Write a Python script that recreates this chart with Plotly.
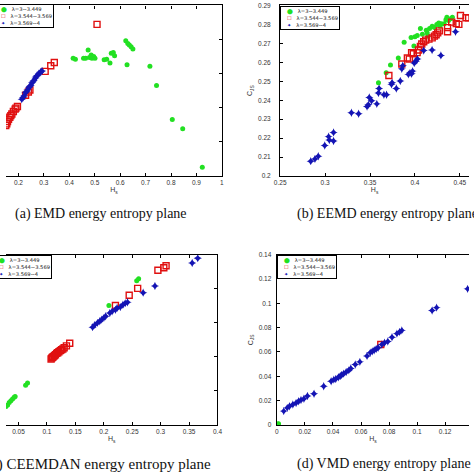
import plotly.graph_objects as go

# ---------------- data ----------------
series_names = ["λ=3~3.449", "λ=3.544~3.569", "λ=3.569~4"]
captions = ["(a) EMD energy entropy plane", "(b) EEMD energy entropy plane",
            "(c) CEEMDAN energy entropy plane", "(d) VMD energy entropy plane"]

# (a) EMD
a_green_x = [0.415, 0.424, 0.456, 0.464, 0.474, 0.479, 0.486, 0.489, 0.496, 0.501, 0.537, 0.547, 0.560, 0.565,
             0.573, 0.578, 0.622, 0.630, 0.636, 0.643, 0.650, 0.627, 0.717, 0.743, 0.805, 0.846, 0.923]
a_green_y = [0.1727, 0.1713, 0.1727, 0.1727, 0.1847, 0.1737, 0.1775, 0.1727, 0.1751, 0.1727, 0.1703, 0.1713, 0.1655,
             0.1800, 0.1809, 0.1761, 0.1982, 0.1944, 0.1920, 0.1896, 0.1862, 0.1631, 0.1607, 0.1327, 0.0826, 0.0691, 0.0128]
a_red_x = [0.509, 0.341, 0.327, 0.305, 0.245, 0.239, 0.228, 0.196, 0.190, 0.187, 0.180, 0.174, 0.170, 0.166,
           0.161, 0.157, 0.154, 0.150]
a_red_y = [0.2223, 0.1664, 0.1616, 0.1534, 0.1260, 0.1231, 0.1183, 0.1019, 0.0995, 0.0980, 0.0945, 0.0908, 0.0885,
           0.0860, 0.0830, 0.0797, 0.0763, 0.0740]
a_blue_x = [0.213, 0.218, 0.222, 0.228, 0.232, 0.235, 0.241, 0.244, 0.248, 0.254, 0.257, 0.260, 0.267, 0.270,
            0.273, 0.280, 0.286, 0.289, 0.293]
a_blue_y = [0.1124, 0.1150, 0.1173, 0.1221, 0.1240, 0.1260, 0.1293, 0.1310, 0.1327, 0.1366, 0.1380, 0.1399, 0.1438,
            0.1455, 0.1472, 0.1501, 0.1520, 0.1530, 0.1539]

# (b) EEMD
b_green_x = [0.3594, 0.3680, 0.3728, 0.3815, 0.3880, 0.3957, 0.3989, 0.4000, 0.4026, 0.4061, 0.4083, 0.4126, 0.4137,
             0.4145, 0.4163, 0.4192, 0.4217, 0.4243, 0.4265, 0.4279, 0.4294, 0.4345, 0.4356, 0.4374, 0.4399, 0.4417, 0.4326]
b_green_y = [0.2493, 0.2545, 0.2587, 0.2623, 0.2706, 0.2732, 0.2687, 0.2736, 0.2742, 0.2779, 0.2749, 0.2770, 0.2756,
             0.2739, 0.2779, 0.2791, 0.2784, 0.2801, 0.2808, 0.2791, 0.2805, 0.2826, 0.2839, 0.2822, 0.2831, 0.2839, 0.2805]
b_red_x = [0.3710, 0.3854, 0.3916, 0.3938, 0.3963, 0.3982, 0.4025, 0.4040, 0.4061, 0.4076, 0.4098, 0.4120, 0.4156,
           0.4192, 0.4217, 0.4236, 0.4254, 0.4272, 0.4363, 0.4363, 0.4410, 0.4460, 0.4489, 0.4507, 0.4569, 0.4598]
b_red_y = [0.2531, 0.2592, 0.2623, 0.2618, 0.2652, 0.2646, 0.2652, 0.2666, 0.2684, 0.2697, 0.2709, 0.2718, 0.2723,
           0.2730, 0.2739, 0.2746, 0.2756, 0.2767, 0.2762, 0.2784, 0.2813, 0.2805, 0.2801, 0.2848, 0.2836, 0.2836]
b_blue_x = [0.2840, 0.2887, 0.2924, 0.2996, 0.3039, 0.3047, 0.3094, 0.3094, 0.3293, 0.3373, 0.3467, 0.3482, 0.3492,
            0.3517, 0.3576, 0.3594, 0.3601, 0.3655, 0.3684, 0.3739, 0.3746, 0.3793, 0.3837, 0.3854, 0.3865, 0.3927,
            0.3945, 0.3963, 0.3974, 0.3992, 0.4010, 0.4028, 0.4098, 0.4191, 0.4289, 0.4452]
b_blue_y = [0.2078, 0.2090, 0.2104, 0.2161, 0.2208, 0.2190, 0.2185, 0.2230, 0.2334, 0.2329, 0.2367, 0.2376, 0.2415,
            0.2398, 0.2381, 0.2438, 0.2462, 0.2429, 0.2429, 0.2485, 0.2493, 0.2462, 0.2502, 0.2566, 0.2583, 0.2537,
            0.2545, 0.2540, 0.2554, 0.2597, 0.2606, 0.2618, 0.2663, 0.2666, 0.2637, 0.2762]

# (c) CEEMDAN
c_green_x = [0.028, 0.0309, 0.0337, 0.0366, 0.0395, 0.0424, 0.0441, 0.0625, 0.0659, 0.2090, 0.2579, 0.2613]
c_green_y = [0.0270, 0.0294, 0.0328, 0.0356, 0.0381, 0.0405, 0.0419, 0.0583, 0.0617, 0.1753, 0.2115, 0.2144]
c_red_x = [0.1073, 0.1085, 0.1096, 0.1110, 0.1131, 0.1150, 0.1171, 0.1190, 0.1211, 0.1235, 0.1257, 0.1280, 0.1303,
           0.1343, 0.1401, 0.2205, 0.2447, 0.2596, 0.2952, 0.3056, 0.3096]
c_red_y = [0.0968, 0.0980, 0.0992, 0.1000, 0.1016, 0.1030, 0.1050, 0.1060, 0.1074, 0.1090, 0.1103, 0.1115, 0.1132,
           0.1161, 0.1199, 0.1753, 0.1903, 0.2004, 0.2269, 0.2307, 0.2336]
c_blue_x = [0.1803, 0.1843, 0.1889, 0.1929, 0.1964, 0.2004, 0.2033, 0.2107, 0.2147, 0.2205, 0.2234, 0.2291, 0.2337,
            0.2377, 0.2418, 0.2693, 0.2900, 0.3555, 0.3653]
c_blue_y = [0.1435, 0.1469, 0.1498, 0.1522, 0.1546, 0.1575, 0.1594, 0.1643, 0.1667, 0.1691, 0.1715, 0.1729, 0.1763,
            0.1787, 0.1801, 0.1941, 0.2038, 0.2375, 0.2447]

# (d) VMD
d_green_x = [0.0004, 0.0008, 0.0012]
d_green_y = [0.0004, 0.0008, 0.0011]
d_red_x = [0.0741]
d_red_y = [0.0662]
d_blue_x = [0.0049, 0.0074, 0.0090, 0.0114, 0.0137, 0.0155, 0.0172, 0.0193, 0.0218, 0.0265, 0.0334, 0.0387, 0.0406,
            0.0420, 0.0439, 0.0452, 0.0462, 0.0476, 0.0494, 0.0513, 0.0527, 0.0559, 0.0592, 0.0643, 0.0666, 0.0680,
            0.0694, 0.0708, 0.0722, 0.0749, 0.0768, 0.0791, 0.0821, 0.0856, 0.0875, 0.0891, 0.1107, 0.1139, 0.1360]
d_blue_y = [0.0114, 0.0141, 0.0154, 0.0168, 0.0181, 0.0195, 0.0205, 0.0216, 0.0238, 0.0257, 0.0319, 0.0359, 0.0373,
            0.0378, 0.0392, 0.0403, 0.0411, 0.0422, 0.0435, 0.0449, 0.0465, 0.0497, 0.0519, 0.0568, 0.0595, 0.0605,
            0.0614, 0.0624, 0.0635, 0.0662, 0.0676, 0.0686, 0.0722, 0.0751, 0.0765, 0.0778, 0.0941, 0.0965, 0.1119]

panels = [
    (a_green_x, a_green_y, a_red_x, a_red_y, a_blue_x, a_blue_y),
    (b_green_x, b_green_y, b_red_x, b_red_y, b_blue_x, b_blue_y),
    (c_green_x, c_green_y, c_red_x, c_red_y, c_blue_x, c_blue_y),
    (d_green_x, d_green_y, d_red_x, d_red_y, d_blue_x, d_blue_y),
]

# ---------------- styling ----------------
W = H = 474
GREEN, RED, BLUE = "#22e022", "#e01010", "#1414b4"
TICKFONT = dict(family="Liberation Sans, Arial", size=6.5, color="#333333")
TITLEFONT = dict(family="Liberation Sans, Arial", size=7, color="#333333")

domains = [
    ([0, 221 / W], [1 - 174.5 / H, 1 - 1.5 / H]),
    ([280.7 / W, 1], [1 - 174.5 / H, 1 - 1.5 / H]),
    ([0, 216.5 / W], [1 - 427.3 / H, 1 - 254.3 / H]),
    ([277.3 / W, 1], [1 - 427.3 / H, 1 - 254.3 / H]),
]
xranges = [[0.151, 1.0], [0.25, 0.4602], [0.028, 0.4], [0, 0.137]]
yranges = [[0, 0.25], [0.2, 0.2901], [0, 0.25], [0, 0.1401]]
xdticks = [0.1, 0.05, 0.05, 0.02]
ydticks = [0.05, 0.01, 0.05, 0.02]

fig = go.Figure()
for i, (gx, gy, rx, ry, bx, by) in enumerate(panels):
    xa = "x" if i == 0 else f"x{i+1}"
    ya = "y" if i == 0 else f"y{i+1}"
    fig.add_trace(go.Scatter(x=gx, y=gy, mode="markers", xaxis=xa, yaxis=ya, name=series_names[0],
                             showlegend=False,
                             marker=dict(symbol="circle", size=5, color=GREEN, line=dict(width=0))))
    fig.add_trace(go.Scatter(x=rx, y=ry, mode="markers", xaxis=xa, yaxis=ya, name=series_names[1],
                             showlegend=False,
                             marker=dict(symbol="square-open", size=6, color=RED, line=dict(width=1.4))))
    fig.add_trace(go.Scatter(x=bx, y=by, mode="markers", xaxis=xa, yaxis=ya, name=series_names[2],
                             showlegend=False,
                             marker=dict(symbol="star-diamond", size=6, color=BLUE, line=dict(width=0))))

layout = dict(width=W, height=H, margin=dict(l=0, r=0, t=0, b=0),
              paper_bgcolor="white", plot_bgcolor="white", showlegend=False)

for i in range(4):
    xk = "xaxis" if i == 0 else f"xaxis{i+1}"
    yk = "yaxis" if i == 0 else f"yaxis{i+1}"
    ya_ref = "y" if i == 0 else f"y{i+1}"
    xa_ref = "x" if i == 0 else f"x{i+1}"
    left_hidden = i in (0, 2)
    layout[xk] = dict(domain=domains[i][0], range=xranges[i], anchor=ya_ref, dtick=xdticks[i], tick0=0,
                      showgrid=False, zeroline=False, showline=True, linecolor="black", linewidth=1.4,
                      mirror="ticks", ticks="inside", ticklen=3, tickcolor="black", tickwidth=1,
                      tickfont=TICKFONT,
                      title=dict(text="H<sub>s</sub>", font=TITLEFONT, standoff=2))
    ydict = dict(domain=domains[i][1], range=yranges[i], anchor=xa_ref, dtick=ydticks[i], tick0=0,
                 showgrid=False, zeroline=False, showline=True, linecolor="black", linewidth=1.4,
                 ticks="inside", ticklen=3, tickcolor="black", tickwidth=1, tickfont=TICKFONT)
    if left_hidden:
        ydict.update(side="right", showticklabels=False, mirror=False)
    else:
        ydict.update(side="left", mirror=False,
                     ticklabelstandoff=7 if i == 1 else 3,
                     title=dict(text="C<sub>JS</sub>", font=TITLEFONT, standoff=4))
    layout[yk] = ydict

fig.update_layout(**layout)

# legends (one box per panel)
def sym(ch, col):
    return f'<span style="color:{col}">{ch}</span>'

leg_text = (f'   {sym("⬤", GREEN)}   {series_names[0]}<br>'
            f'   {sym("☐", RED)}   {series_names[1]}<br>'
            f'   {sym("✦", BLUE)}   {series_names[2]}')
leg_pos = [(49 / W, 1 - 0 / H, "right"), (280.7 / W, 1 - 2 / H, "left"),
           (47 / W, 1 - 254.3 / H, "right"), (277.3 / W, 1 - 254.3 / H, "left")]
for (lx, ly, anc) in leg_pos:
    fig.add_annotation(xref="paper", yref="paper", x=lx, y=ly, xanchor=anc, yanchor="top",
                       text=leg_text, showarrow=False, align="left",
                       font=dict(family="DejaVu Sans, Liberation Sans", size=5.2, color="#222222"),
                       bgcolor="white", bordercolor="black", borderwidth=1, borderpad=1)

# captions
cap_pos = [(7 / W, 1 - 213 / H, "left", 14), (296 / W, 1 - 213 / H, "left", 14),
           (212 / W, 1 - 467 / H, "right", 15), (296 / W, 1 - 467 / H, "left", 14)]
for txt, (cx, cy, anc, fs) in zip(captions, cap_pos):
    fig.add_annotation(xref="paper", yref="paper", x=cx, y=cy, xanchor=anc, yanchor="middle",
                       text=txt, showarrow=False,
                       font=dict(family="Liberation Serif, Times New Roman", size=fs, color="#111111"))

fig.write_html("out.html")
